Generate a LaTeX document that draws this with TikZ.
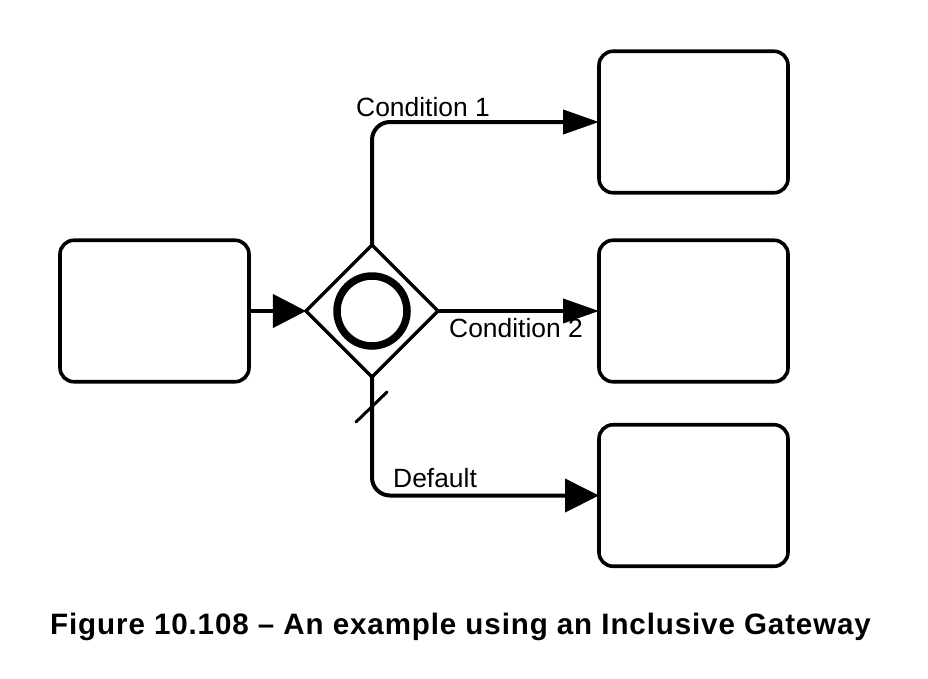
\documentclass[tikz,border=0pt]{standalone}
\usepackage{fontspec}
\setmainfont{Liberation Sans}
\newfontfamily\captionfont[LetterSpace=3]{Liberation Sans}
\usepackage{tikz}
\usetikzlibrary{shapes.geometric, positioning, calc, arrows.meta}

\begin{document}
\begin{tikzpicture}[x=1pt, y=-1pt,
task/.style={rectangle, draw, line width=3.6pt, rounded corners=14pt, minimum width=189pt, minimum height=141.5pt, outer sep=0pt},
gate/.style={diamond, draw, line width=3.5pt, minimum width=132pt, minimum height=132pt, inner sep=0pt, outer sep=0pt},
flow/.style={line width=4pt, rounded corners=18pt},
label/.style={font=\fontsize{26.4}{30}\selectfont, inner sep=0pt, anchor=base west}]

\useasboundingbox (0,0) rectangle (928,678);

% Tasks

\node [task] (start) at (154.5,311) {};
\node [gate, right=57pt of start] (gateway) {};
\node [circle, draw, line width=7.5pt, minimum size=70pt, inner sep=0pt, outer sep=0pt] (inclusive) at (gateway) {};
\node [task, right=161pt of gateway] (middle) {};
\node [task, above=47.5pt of middle] (upper) {};
\node [task, below=43pt of middle] (lower) {};

% Sequence flows

\draw[line width=4pt, -{Triangle[length=33pt, width=33pt]}] (start) -- (gateway);
\draw[flow, -{Triangle[length=36pt, width=24pt]}] (gateway.north) |- (upper.west);
\draw[line width=4pt, -{Triangle[length=36pt, width=24pt]}] (gateway.east) -- (middle.west);
\draw[flow, -{Triangle[length=34pt, width=33pt]}] (gateway.south) |- (lower.west);

% Default marker

\coordinate (slashlow) at ($(gateway.south) + (-16,45)$);
\coordinate (slashhigh) at ($(gateway.south) + (15,15)$);
\draw[line width=3pt, line cap=round] (slashlow) -- (slashhigh);

% Labels

\node [label] (conditionone) at (356,116) {Condition 1};
\node [label] (conditiontwo) at (449,337) {Condition 2};
\node [label] (default) at (393,487) {Default};

\node [font=\fontsize{29.55}{34}\selectfont\bfseries\captionfont, inner sep=0pt, anchor=base west] (caption) at (50,634) {Figure 10.108 – An example using an Inclusive Gateway};

\end{tikzpicture}
\end{document}
